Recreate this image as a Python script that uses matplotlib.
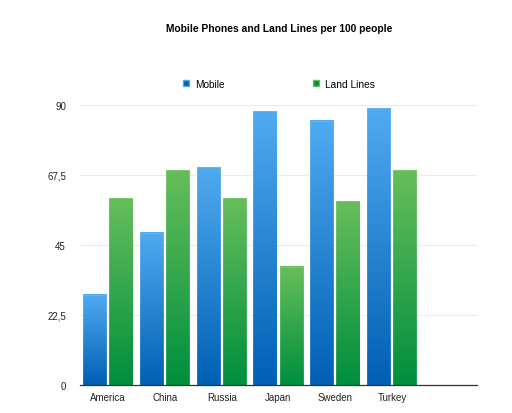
import numpy as np
import matplotlib
matplotlib.use("Agg")
import matplotlib.pyplot as plt
from matplotlib.patches import Rectangle
from matplotlib.lines import Line2D
from matplotlib.colors import to_rgb

plt.rcParams['font.family'] = ['Liberation Sans', 'DejaVu Sans']

countries = ['America', 'China', 'Russia', 'Japan', 'Sweden', 'Turkey']
mobile = [29, 49, 70, 88, 85, 89]
land_lines = [60, 69, 60, 38, 59, 69]
yticks = [0, 22.5, 45, 67.5, 90]
ytick_labels = ['0', '22,5', '45', '67,5', '90']

# top / bottom colours of the gradient bars
blue = ('#50aaf0', '#0060b4')
green = ('#66be5a', '#008f3e')

fig = plt.figure(figsize=(5.12, 4.14), dpi=100)
ax = fig.add_axes([0.156, 0.0676, 0.776, 0.6765])


def grad_bar(ax, x0, w, h, cols):
    top = np.array(to_rgb(cols[0]))
    bot = np.array(to_rgb(cols[1]))
    t = np.linspace(0, 1, 64)[:, None]
    img = top * (1 - t) + bot * t
    img = img[:, None, :]
    ax.imshow(img, extent=[x0, x0 + w, 0, h], aspect='auto', origin='upper',
              interpolation='bilinear', zorder=2)
    # faint light rim
    ax.add_patch(Rectangle((x0, 0), w, h, fill=False, edgecolor=(1, 1, 1, 0.15),
                           lw=0.6, zorder=3))


bw = 0.41
for i in range(len(countries)):
    grad_bar(ax, i - 0.445, bw, mobile[i], blue)
    grad_bar(ax, i + 0.02, bw, land_lines[i], green)

ax.set_xlim(-0.5, 6.5)
ax.set_ylim(0, 90)
ax.set_xticks(range(len(countries)))
ax.set_xticklabels(countries, fontsize=7, color='#222222')
ax.set_yticks(yticks)
ax.set_yticklabels(ytick_labels, fontsize=7, color='#222222')
ax.tick_params(length=0, pad=5)
ax.tick_params(axis='y', pad=10)
for s in ['top', 'right', 'left']:
    ax.spines[s].set_visible(False)
ax.spines['bottom'].set_color('#333333')
ax.spines['bottom'].set_linewidth(0.9)
ax.spines['bottom'].set_zorder(5)
ax.grid(axis='y', color='#ebebeb', lw=0.8, zorder=0)
ax.set_axisbelow(True)

fig.text(0.545, 0.93, 'Mobile Phones and Land Lines per 100 people',
         ha='center', va='center', fontsize=7.4, fontweight='bold')

handles = [Line2D([], [], ls='', marker='s', ms=4.5, mfc=blue[1], mec=blue[0]),
           Line2D([], [], ls='', marker='s', ms=4.5, mfc=green[1], mec=green[0])]
fig.legend(handles, ['Mobile', 'Land Lines'], ncol=2, loc='center',
           bbox_to_anchor=(0.542, 0.795), frameon=False, fontsize=7.3,
           handletextpad=0.4, columnspacing=8.5, handlelength=1)

fig.savefig('out.png', dpi=100)
